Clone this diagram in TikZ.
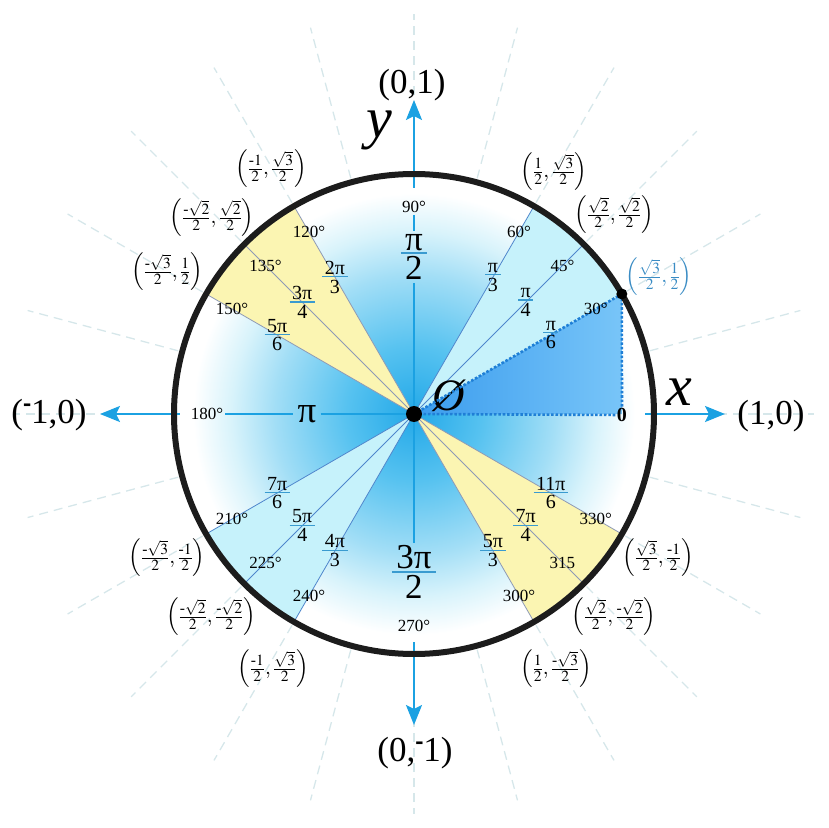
\documentclass[tikz,border=0pt]{standalone}
\usepackage{amsmath}
\usepackage{graphicx}
\usepackage{mathptmx}
\usepackage{fontspec}
\setmainfont{Liberation Serif}
\usetikzlibrary{arrows.meta}

\definecolor{axisblue}{HTML}{1BA1E2}
\definecolor{skyc}{HTML}{C6F2FB}
\definecolor{yel}{HTML}{FBF5B2}
\definecolor{gridc}{HTML}{D6E7EA}
\definecolor{fracb}{HTML}{3A9BD0}
\definecolor{coordb}{HTML}{3A8CC4}
\definecolor{dotb}{HTML}{1F7FD6}
\definecolor{lineb}{HTML}{4F86CC}
\definecolor{lineg}{HTML}{8E9AB6}
\definecolor{tri1}{HTML}{3A9CEE}
\definecolor{tri2}{HTML}{78C5F8}
\definecolor{circ}{HTML}{1C1C1C}
\definecolor{g0}{HTML}{22A8E8}
\definecolor{g1}{HTML}{56C2F0}
\definecolor{g2}{HTML}{A2DEF6}
\definecolor{g3}{HTML}{D8F3FB}

\pgfdeclareradialshading{bgshade}{\pgfpoint{0bp}{0bp}}{color(0bp)=(g0); color(7bp)=(g1); color(14.5bp)=(g2); color(19bp)=(g3); color(23bp)=(white); color(50bp)=(white)}

\newcommand\fs[1]{\fontsize{#1}{#1}\selectfont}
\newlength\fracw
\newcommand\rad[3][1.3pt]{%
 \setbox0\hbox{#2}\setbox2\hbox{#3}%
 \fracw=\ifdim\wd0>\wd2 \wd0\else\wd2\fi
 \advance\fracw by 0.25em
 \vbox{\offinterlineskip\halign{\hfil##\hfil\cr\box0\cr\noalign{\kern 1.6pt}\textcolor{fracb}{\rule{\fracw}{#1}}\cr\noalign{\kern 2.4pt}\box2\cr}}}
\newcommand\cpt[2]{$\Bigl(\frac{#1}{2},\frac{#2}{2}\Bigr)$}
\newcommand\mn{\text{-}}
\newcommand\hmin{\raisebox{0.28em}{\scalebox{0.7}[1]{-}}}

\tikzset{
 ray/.style={gridc, line width=1.3pt, dash pattern=on 9pt off 6pt},
 axisline/.style={axisblue, line width=2.4pt},
 axarrow/.style={axisline, -{Stealth[length=20pt,width=16pt,inset=4pt]}},
 radb/.style={lineb, line width=0.8pt},
 radg/.style={lineg, line width=0.8pt},
 dotline/.style={dotb, line width=2.6pt, dash pattern=on 2.6pt off 1.8pt},
 deg/.style={font=\fs{17}, inner sep=2pt},
 radlbl/.style={font=\fs{20}, inner sep=0pt},
 coordlbl/.style={font=\fs{21}, inner sep=0pt},
 big/.style={font=\fs{35}, inner sep=3pt},
 endlbl/.style={font=\fs{35}},
}

\begin{document}
\begin{tikzpicture}[x=1pt,y=1pt]
\useasboundingbox (-414,-414) rectangle (414,414);
\coordinate (O) at (0,0);

% faint guide rays
\foreach \a in {0,15,...,345}
  \draw[ray] (\a:244) -- (\a:400);

% gradient disc
\shade[shading=bgshade] (O) circle (240);

% coloured sectors
\fill[skyc] (O) -- (30:240) arc[start angle=30, end angle=60, radius=240] -- cycle;
\fill[skyc] (O) -- (210:240) arc[start angle=210, end angle=240, radius=240] -- cycle;
\fill[yel] (O) -- (120:240) arc[start angle=120, end angle=150, radius=240] -- cycle;
\fill[yel] (O) -- (300:240) arc[start angle=300, end angle=330, radius=240] -- cycle;

% triangle
\coordinate (P) at (30:240);
\coordinate (F) at ({240*cos(30)},0);
\shade[left color=tri1, right color=tri2] (O) -- (P) -- (F) -- cycle;

% radial lines
\foreach \a in {45,60,210,225,240}
  \draw[radb] (O) -- (\a:238);
\foreach \a in {120,135,150,300,315,330}
  \draw[radg] (O) -- (\a:238);

% labels on axes
\node[deg] (n90) at (0,207) {90°};
\node[deg] (n180) at (-207,0) {180°};
\node[deg] (n270) at (0,-212) {270°};
\node[big] (npi2) at (0,157) {\rad[1.8pt]{π}{2}};
\node[big] (n3pi2) at (0,-158) {\rad[1.8pt]{3π}{2}};
\node[font=\fs{37}, inner sep=4pt] (npi) at (-107,0) {π};
\node[font=\fs{20}\bfseries, inner sep=1.5pt] (nzero) at (208,-1) {0};
\node[font=\fs{45}\itshape, inner sep=0pt] (phi) at (35,18) {Ø};

% dotted triangle edges
\draw[dotline] (O) -- (P);
\draw[dotline] (P) -- (nzero);
\draw[dotline] (nzero) -- (O);

% axes
\coordinate (tipL) at (-314,0);
\coordinate (tipR) at (311,0);
\coordinate (tipT) at (0,314);
\coordinate (tipB) at (0,-311);
\coordinate (cL) at (-234,0);
\coordinate (cR) at (231,0);
\coordinate (cT) at (0,226);
\coordinate (cB) at (0,-228);
\draw[axarrow] (cT) -- (tipT);
\draw[axarrow] (cB) -- (tipB);
\draw[axarrow] (cL) -- (tipL);
\draw[axarrow] (cR) -- (tipR);
\draw[axisline] (n90) -- (npi2);
\draw[axisline] (npi2) -- (O);
\draw[axisline] (O) -- (n3pi2);
\draw[axisline] (n180) -- (npi);
\draw[axisline] (npi) -- (O);

% circle and dots
\draw[circ, line width=6pt] (O) circle (240);
\fill[black] (O) circle (8);
\fill[black] (P) circle (5.5);

% degree labels
\foreach \a/\t in {30/30°,45/45°,60/60°,120/120°,135/135°,150/150°,210/210°,225/225°,240/240°,300/300°,315/315,330/330°}
  \node[deg] (d\a) at (\a:210) {\t};

% radian labels
\foreach \a/\n/\d in {30/π/6,45/π/4,60/π/3,120/2π/3,135/3π/4,150/5π/6,210/7π/6,225/5π/4,240/4π/3,300/5π/3,315/7π/4,330/11π/6}
  \node[radlbl] (r\a) at (\a:158) {\rad{\n}{\d}};

% coordinate labels
\node[coordlbl, coordb] (c30) at (245,137) {\cpt{\sqrt{3}}{1}};
\foreach \a/\x/\y/\p/\q in {45/200/199/{\sqrt{2}}/{\sqrt{2}}, 60/140/242/{1}/{\sqrt{3}}, 120/-143/245/{\mn1}/{\sqrt{3}}, 135/-202/196/{\mn\sqrt{2}}/{\sqrt{2}}, 150/-247/142/{\mn\sqrt{3}}/{1}, 210/-247/-144/{\mn\sqrt{3}}/{\mn1}, 225/-203/-203/{\mn\sqrt{2}}/{\mn\sqrt{2}}, 240/-141/-255/{\mn1}/{\sqrt{3}}, 300/142/-255/{1}/{\mn\sqrt{3}}, 315/200/-203/{\sqrt{2}}/{\mn\sqrt{2}}, 330/244/-144/{\sqrt{3}}/{\mn1}}
  \node[coordlbl] (c\a) at (\x,\y) {\cpt{\p}{\q}};

% axis end labels
\node[endlbl] (e10) at (357,-2) {(1,0)};
\node[endlbl] (e01) at (-2,329) {(0,1)};
\node[endlbl] (em10) at (-365,-1) {(\hmin1,0)};
\node[endlbl] (e0m1) at (1,-339) {(0,\hmin1)};
\node[font=\fs{58}\itshape, inner sep=0pt] (xl) at (265,22) {x};
\node[font=\fs{58}\itshape, inner sep=0pt] (yl) at (-35,284) {y};
\end{tikzpicture}
\end{document}
